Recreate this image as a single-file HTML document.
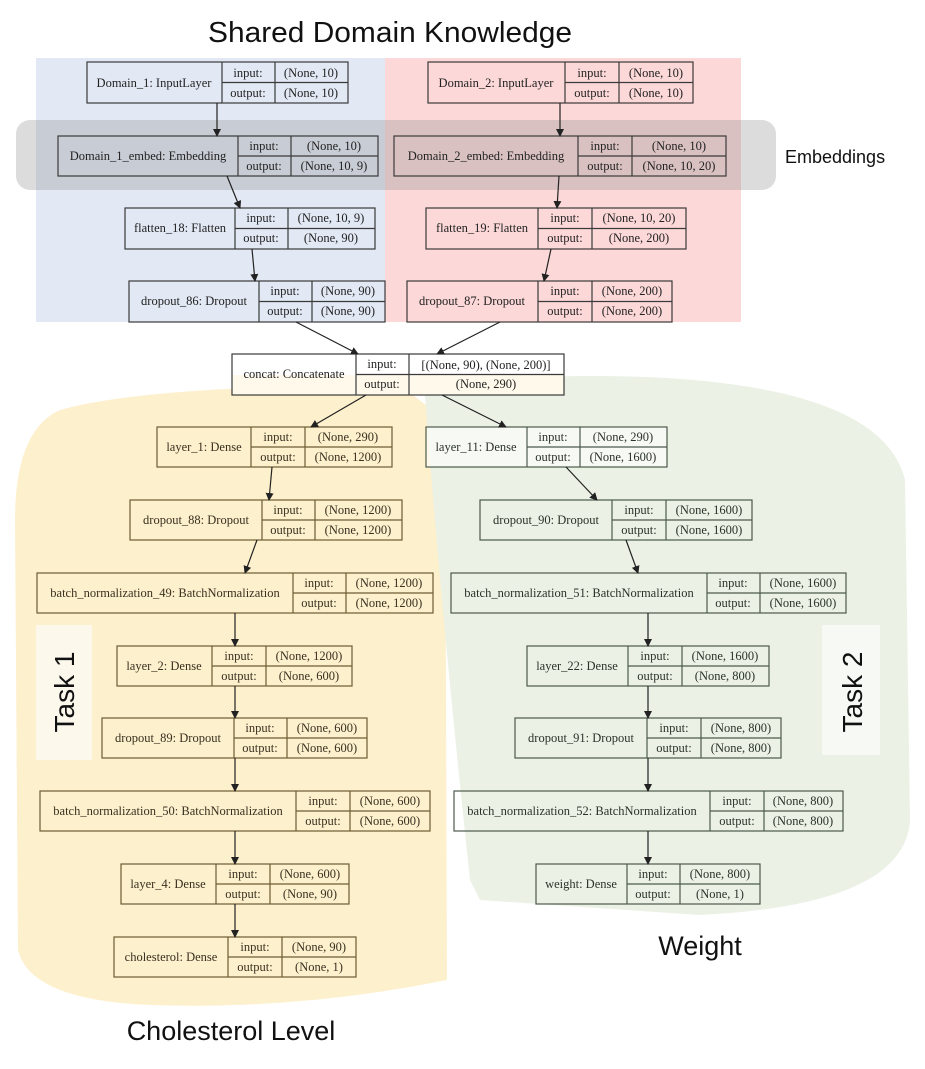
<!DOCTYPE html>
<html><head><meta charset="utf-8"><style>
html,body{margin:0;padding:0;background:#fff;}
svg{display:block;}
.n{font-family:"Liberation Serif",serif;font-size:12.5px;fill:#222;}
.t{font-family:"Liberation Sans","DejaVu Sans",sans-serif;fill:#111;}
rect.b{fill:none;stroke:#3a3a3a;stroke-width:1.2;}
line.d{stroke:#3a3a3a;stroke-width:1.2;}
line.a{stroke:#222;stroke-width:1.2;marker-end:url(#ah);}
g.y rect.b, g.y line.d{stroke:#6e5c34;}
g.y .n{fill:#3a3020;}
g.g rect.b, g.g line.d{stroke:#4c5a4c;}
g.g .n{fill:#2a332a;}
</style></head><body>
<svg width="925" height="1069" viewBox="0 0 925 1069" xmlns="http://www.w3.org/2000/svg">
<defs><marker id="ah" markerWidth="8" markerHeight="8" refX="7" refY="4" orient="auto" markerUnits="userSpaceOnUse"><path d="M0,0 L8,4 L0,8 Z" fill="#222"/></marker></defs>
<rect x="36" y="58" width="349" height="264" fill="#e2e8f4"/>
<rect x="385" y="58" width="356" height="264" fill="#fdd8d8"/>
<rect x="16" y="120" width="760" height="70" rx="14" fill="#8a8a8a" fill-opacity="0.3"/>
<path d="M60,410 Q150,385 400,385 L445,420 L447,980 Q300,1010 150,1005 Q30,1000 18,950 L15,520 Q15,430 60,410 Z" fill="#fdf0cd"/>
<path d="M425,395 Q450,376 600,376 Q880,378 905,480 L910,820 Q905,905 700,915 L480,900 L470,880 Q440,600 425,395 Z" fill="#ebf1e4"/>
<rect x="36" y="625" width="56" height="135" fill="#fdf8ec"/>
<rect x="822" y="625" width="58" height="130" fill="#f7f9f4"/>
<text class="t" x="390" y="42" font-size="29" text-anchor="middle" textLength="364" lengthAdjust="spacingAndGlyphs">Shared Domain Knowledge</text>
<text class="t" x="785" y="163" font-size="18">Embeddings</text>
<text class="t" x="700" y="955" font-size="27" text-anchor="middle">Weight</text>
<text class="t" x="231" y="1040" font-size="27" text-anchor="middle">Cholesterol Level</text>
<text class="t" font-size="28" transform="translate(74,692) rotate(-90)" text-anchor="middle">Task 1</text>
<text class="t" font-size="28" transform="translate(862,692) rotate(-90)" text-anchor="middle">Task 2</text>

<g>
<rect class="b" x="87" y="62" width="261" height="41"/><line class="d" x1="222" y1="62" x2="222" y2="103"/><line class="d" x1="275" y1="62" x2="275" y2="103"/><line class="d" x1="222" y1="82.5" x2="348" y2="82.5"/>
<text class="n" x="154" y="87" text-anchor="middle">Domain_1: InputLayer</text><text class="n" x="248" y="77" text-anchor="middle">input:</text><text class="n" x="248" y="97" text-anchor="middle">output:</text><text class="n" x="311" y="77" text-anchor="middle">(None, 10)</text><text class="n" x="311" y="97" text-anchor="middle">(None, 10)</text>

<rect class="b" x="58" y="136" width="320" height="40"/><line class="d" x1="238" y1="136" x2="238" y2="176"/><line class="d" x1="291" y1="136" x2="291" y2="176"/><line class="d" x1="238" y1="156" x2="378" y2="156"/>
<text class="n" x="148" y="160" text-anchor="middle">Domain_1_embed: Embedding</text><text class="n" x="264" y="150" text-anchor="middle">input:</text><text class="n" x="264" y="170" text-anchor="middle">output:</text><text class="n" x="334" y="150" text-anchor="middle">(None, 10)</text><text class="n" x="334" y="170" text-anchor="middle">(None, 10, 9)</text>

<rect class="b" x="125" y="208" width="250" height="41"/><line class="d" x1="235" y1="208" x2="235" y2="249"/><line class="d" x1="288" y1="208" x2="288" y2="249"/><line class="d" x1="235" y1="228.5" x2="375" y2="228.5"/>
<text class="n" x="180" y="232" text-anchor="middle">flatten_18: Flatten</text><text class="n" x="261" y="222" text-anchor="middle">input:</text><text class="n" x="261" y="242" text-anchor="middle">output:</text><text class="n" x="331" y="222" text-anchor="middle">(None, 10, 9)</text><text class="n" x="331" y="242" text-anchor="middle">(None, 90)</text>

<rect class="b" x="129" y="281" width="256" height="41"/><line class="d" x1="259" y1="281" x2="259" y2="322"/><line class="d" x1="312" y1="281" x2="312" y2="322"/><line class="d" x1="259" y1="301.5" x2="385" y2="301.5"/>
<text class="n" x="194" y="305" text-anchor="middle">dropout_86: Dropout</text><text class="n" x="285" y="295" text-anchor="middle">input:</text><text class="n" x="285" y="315" text-anchor="middle">output:</text><text class="n" x="348" y="295" text-anchor="middle">(None, 90)</text><text class="n" x="348" y="315" text-anchor="middle">(None, 90)</text>

<rect class="b" x="428" y="62" width="265" height="41"/><line class="d" x1="565" y1="62" x2="565" y2="103"/><line class="d" x1="619" y1="62" x2="619" y2="103"/><line class="d" x1="565" y1="82.5" x2="693" y2="82.5"/>
<text class="n" x="496" y="87" text-anchor="middle">Domain_2: InputLayer</text><text class="n" x="592" y="77" text-anchor="middle">input:</text><text class="n" x="592" y="97" text-anchor="middle">output:</text><text class="n" x="656" y="77" text-anchor="middle">(None, 10)</text><text class="n" x="656" y="97" text-anchor="middle">(None, 10)</text>

<rect class="b" x="394" y="136" width="332" height="40"/><line class="d" x1="578" y1="136" x2="578" y2="176"/><line class="d" x1="632" y1="136" x2="632" y2="176"/><line class="d" x1="578" y1="156" x2="726" y2="156"/>
<text class="n" x="486" y="160" text-anchor="middle">Domain_2_embed: Embedding</text><text class="n" x="605" y="150" text-anchor="middle">input:</text><text class="n" x="605" y="170" text-anchor="middle">output:</text><text class="n" x="679" y="150" text-anchor="middle">(None, 10)</text><text class="n" x="679" y="170" text-anchor="middle">(None, 10, 20)</text>

<rect class="b" x="426" y="208" width="260" height="41"/><line class="d" x1="538" y1="208" x2="538" y2="249"/><line class="d" x1="592" y1="208" x2="592" y2="249"/><line class="d" x1="538" y1="228.5" x2="686" y2="228.5"/>
<text class="n" x="482" y="232" text-anchor="middle">flatten_19: Flatten</text><text class="n" x="565" y="222" text-anchor="middle">input:</text><text class="n" x="565" y="242" text-anchor="middle">output:</text><text class="n" x="639" y="222" text-anchor="middle">(None, 10, 20)</text><text class="n" x="639" y="242" text-anchor="middle">(None, 200)</text>

<rect class="b" x="407" y="281" width="265" height="41"/><line class="d" x1="538" y1="281" x2="538" y2="322"/><line class="d" x1="592" y1="281" x2="592" y2="322"/><line class="d" x1="538" y1="301.5" x2="672" y2="301.5"/>
<text class="n" x="472" y="305" text-anchor="middle">dropout_87: Dropout</text><text class="n" x="565" y="295" text-anchor="middle">input:</text><text class="n" x="565" y="315" text-anchor="middle">output:</text><text class="n" x="632" y="295" text-anchor="middle">(None, 200)</text><text class="n" x="632" y="315" text-anchor="middle">(None, 200)</text>

<rect x="232" y="354" width="332" height="41" fill="#fff"/><rect x="232" y="375" width="332" height="20" fill="#fdf0cd" fill-opacity="0.4"/>
<rect class="b" x="232" y="354" width="332" height="41"/><line class="d" x1="356" y1="354" x2="356" y2="395"/><line class="d" x1="409" y1="354" x2="409" y2="395"/><line class="d" x1="356" y1="374.5" x2="564" y2="374.5"/>
<text class="n" x="294" y="378" text-anchor="middle">concat: Concatenate</text><text class="n" x="382" y="368" text-anchor="middle">input:</text><text class="n" x="382" y="388" text-anchor="middle">output:</text><text class="n" x="486" y="369" text-anchor="middle" font-size="14">[(None, 90), (None, 200)]</text><text class="n" x="486" y="388" text-anchor="middle">(None, 290)</text>
</g>

<g class="y">
<rect class="b" x="157" y="427" width="235" height="40"/><line class="d" x1="251" y1="427" x2="251" y2="467"/><line class="d" x1="305" y1="427" x2="305" y2="467"/><line class="d" x1="251" y1="447" x2="392" y2="447"/>
<text class="n" x="204" y="451" text-anchor="middle">layer_1: Dense</text><text class="n" x="278" y="441" text-anchor="middle">input:</text><text class="n" x="278" y="461" text-anchor="middle">output:</text><text class="n" x="348" y="441" text-anchor="middle">(None, 290)</text><text class="n" x="348" y="461" text-anchor="middle">(None, 1200)</text>

<rect class="b" x="130" y="500" width="272" height="40"/><line class="d" x1="262" y1="500" x2="262" y2="540"/><line class="d" x1="315" y1="500" x2="315" y2="540"/><line class="d" x1="262" y1="520" x2="402" y2="520"/>
<text class="n" x="196" y="524" text-anchor="middle">dropout_88: Dropout</text><text class="n" x="288" y="514" text-anchor="middle">input:</text><text class="n" x="288" y="534" text-anchor="middle">output:</text><text class="n" x="358" y="514" text-anchor="middle">(None, 1200)</text><text class="n" x="358" y="534" text-anchor="middle">(None, 1200)</text>

<rect class="b" x="37" y="573" width="396" height="40"/><line class="d" x1="293" y1="573" x2="293" y2="613"/><line class="d" x1="346" y1="573" x2="346" y2="613"/><line class="d" x1="293" y1="593" x2="433" y2="593"/>
<text class="n" x="165" y="597" text-anchor="middle">batch_normalization_49: BatchNormalization</text><text class="n" x="319" y="587" text-anchor="middle">input:</text><text class="n" x="319" y="607" text-anchor="middle">output:</text><text class="n" x="389" y="587" text-anchor="middle">(None, 1200)</text><text class="n" x="389" y="607" text-anchor="middle">(None, 1200)</text>

<rect class="b" x="117" y="646" width="235" height="40"/><line class="d" x1="212" y1="646" x2="212" y2="686"/><line class="d" x1="266" y1="646" x2="266" y2="686"/><line class="d" x1="212" y1="666" x2="352" y2="666"/>
<text class="n" x="164" y="670" text-anchor="middle">layer_2: Dense</text><text class="n" x="239" y="660" text-anchor="middle">input:</text><text class="n" x="239" y="680" text-anchor="middle">output:</text><text class="n" x="309" y="660" text-anchor="middle">(None, 1200)</text><text class="n" x="309" y="680" text-anchor="middle">(None, 600)</text>

<rect class="b" x="102" y="718" width="265" height="40"/><line class="d" x1="234" y1="718" x2="234" y2="758"/><line class="d" x1="287" y1="718" x2="287" y2="758"/><line class="d" x1="234" y1="738" x2="367" y2="738"/>
<text class="n" x="168" y="742" text-anchor="middle">dropout_89: Dropout</text><text class="n" x="260" y="732" text-anchor="middle">input:</text><text class="n" x="260" y="752" text-anchor="middle">output:</text><text class="n" x="327" y="732" text-anchor="middle">(None, 600)</text><text class="n" x="327" y="752" text-anchor="middle">(None, 600)</text>

<rect class="b" x="40" y="791" width="390" height="40"/><line class="d" x1="296" y1="791" x2="296" y2="831"/><line class="d" x1="350" y1="791" x2="350" y2="831"/><line class="d" x1="296" y1="811" x2="430" y2="811"/>
<text class="n" x="168" y="815" text-anchor="middle">batch_normalization_50: BatchNormalization</text><text class="n" x="323" y="805" text-anchor="middle">input:</text><text class="n" x="323" y="825" text-anchor="middle">output:</text><text class="n" x="390" y="805" text-anchor="middle">(None, 600)</text><text class="n" x="390" y="825" text-anchor="middle">(None, 600)</text>

<rect class="b" x="121" y="864" width="228" height="40"/><line class="d" x1="216" y1="864" x2="216" y2="904"/><line class="d" x1="270" y1="864" x2="270" y2="904"/><line class="d" x1="216" y1="884" x2="349" y2="884"/>
<text class="n" x="168" y="888" text-anchor="middle">layer_4: Dense</text><text class="n" x="243" y="878" text-anchor="middle">input:</text><text class="n" x="243" y="898" text-anchor="middle">output:</text><text class="n" x="310" y="878" text-anchor="middle">(None, 600)</text><text class="n" x="310" y="898" text-anchor="middle">(None, 90)</text>

<rect class="b" x="114" y="937" width="242" height="40"/><line class="d" x1="228" y1="937" x2="228" y2="977"/><line class="d" x1="282" y1="937" x2="282" y2="977"/><line class="d" x1="228" y1="957" x2="356" y2="957"/>
<text class="n" x="171" y="961" text-anchor="middle">cholesterol: Dense</text><text class="n" x="255" y="951" text-anchor="middle">input:</text><text class="n" x="255" y="971" text-anchor="middle">output:</text><text class="n" x="319" y="951" text-anchor="middle">(None, 90)</text><text class="n" x="319" y="971" text-anchor="middle">(None, 1)</text>
</g>

<g class="g">
<rect x="426" y="427" width="241" height="40" fill="#fff" fill-opacity="0.6"/>
<rect class="b" x="426" y="427" width="241" height="40"/><line class="d" x1="527" y1="427" x2="527" y2="467"/><line class="d" x1="580" y1="427" x2="580" y2="467"/><line class="d" x1="527" y1="447" x2="667" y2="447"/>
<text class="n" x="476" y="451" text-anchor="middle">layer_11: Dense</text><text class="n" x="553" y="441" text-anchor="middle">input:</text><text class="n" x="553" y="461" text-anchor="middle">output:</text><text class="n" x="623" y="441" text-anchor="middle">(None, 290)</text><text class="n" x="623" y="461" text-anchor="middle">(None, 1600)</text>

<rect class="b" x="480" y="500" width="272" height="40"/><line class="d" x1="612" y1="500" x2="612" y2="540"/><line class="d" x1="666" y1="500" x2="666" y2="540"/><line class="d" x1="612" y1="520" x2="752" y2="520"/>
<text class="n" x="546" y="524" text-anchor="middle">dropout_90: Dropout</text><text class="n" x="639" y="514" text-anchor="middle">input:</text><text class="n" x="639" y="534" text-anchor="middle">output:</text><text class="n" x="709" y="514" text-anchor="middle">(None, 1600)</text><text class="n" x="709" y="534" text-anchor="middle">(None, 1600)</text>

<rect class="b" x="451" y="573" width="395" height="40"/><line class="d" x1="707" y1="573" x2="707" y2="613"/><line class="d" x1="760" y1="573" x2="760" y2="613"/><line class="d" x1="707" y1="593" x2="846" y2="593"/>
<text class="n" x="579" y="597" text-anchor="middle">batch_normalization_51: BatchNormalization</text><text class="n" x="733" y="587" text-anchor="middle">input:</text><text class="n" x="733" y="607" text-anchor="middle">output:</text><text class="n" x="803" y="587" text-anchor="middle">(None, 1600)</text><text class="n" x="803" y="607" text-anchor="middle">(None, 1600)</text>

<rect class="b" x="527" y="646" width="242" height="40"/><line class="d" x1="628" y1="646" x2="628" y2="686"/><line class="d" x1="682" y1="646" x2="682" y2="686"/><line class="d" x1="628" y1="666" x2="769" y2="666"/>
<text class="n" x="577" y="670" text-anchor="middle">layer_22: Dense</text><text class="n" x="655" y="660" text-anchor="middle">input:</text><text class="n" x="655" y="680" text-anchor="middle">output:</text><text class="n" x="725" y="660" text-anchor="middle">(None, 1600)</text><text class="n" x="725" y="680" text-anchor="middle">(None, 800)</text>

<rect class="b" x="515" y="718" width="266" height="40"/><line class="d" x1="647" y1="718" x2="647" y2="758"/><line class="d" x1="701" y1="718" x2="701" y2="758"/><line class="d" x1="647" y1="738" x2="781" y2="738"/>
<text class="n" x="581" y="742" text-anchor="middle">dropout_91: Dropout</text><text class="n" x="674" y="732" text-anchor="middle">input:</text><text class="n" x="674" y="752" text-anchor="middle">output:</text><text class="n" x="741" y="732" text-anchor="middle">(None, 800)</text><text class="n" x="741" y="752" text-anchor="middle">(None, 800)</text>

<rect class="b" x="454" y="791" width="389" height="40"/><line class="d" x1="710" y1="791" x2="710" y2="831"/><line class="d" x1="764" y1="791" x2="764" y2="831"/><line class="d" x1="710" y1="811" x2="843" y2="811"/>
<text class="n" x="582" y="815" text-anchor="middle">batch_normalization_52: BatchNormalization</text><text class="n" x="737" y="805" text-anchor="middle">input:</text><text class="n" x="737" y="825" text-anchor="middle">output:</text><text class="n" x="803" y="805" text-anchor="middle">(None, 800)</text><text class="n" x="803" y="825" text-anchor="middle">(None, 800)</text>

<rect class="b" x="536" y="864" width="224" height="40"/><line class="d" x1="627" y1="864" x2="627" y2="904"/><line class="d" x1="680" y1="864" x2="680" y2="904"/><line class="d" x1="627" y1="884" x2="760" y2="884"/>
<text class="n" x="581" y="888" text-anchor="middle">weight: Dense</text><text class="n" x="653" y="878" text-anchor="middle">input:</text><text class="n" x="653" y="898" text-anchor="middle">output:</text><text class="n" x="720" y="878" text-anchor="middle">(None, 800)</text><text class="n" x="720" y="898" text-anchor="middle">(None, 1)</text>
</g>

<line class="a" x1="217" y1="103" x2="217" y2="136"/>
<line class="a" x1="227" y1="176" x2="240" y2="208"/>
<line class="a" x1="252" y1="249" x2="255" y2="281"/>
<line class="a" x1="296" y1="322" x2="358" y2="354"/>
<line class="a" x1="560" y1="103" x2="560" y2="136"/>
<line class="a" x1="559" y1="176" x2="557" y2="208"/>
<line class="a" x1="551" y1="249" x2="544" y2="281"/>
<line class="a" x1="500" y1="322" x2="437" y2="354"/>
<line class="a" x1="366" y1="395" x2="311" y2="427"/>
<line class="a" x1="442" y1="395" x2="506" y2="427"/>
<line class="a" x1="272" y1="467" x2="269" y2="500"/>
<line class="a" x1="257" y1="540" x2="245" y2="573"/>
<line class="a" x1="235" y1="613" x2="235" y2="646"/>
<line class="a" x1="235" y1="686" x2="235" y2="718"/>
<line class="a" x1="235" y1="758" x2="235" y2="791"/>
<line class="a" x1="235" y1="831" x2="235" y2="864"/>
<line class="a" x1="235" y1="904" x2="235" y2="937"/>
<line class="a" x1="566" y1="467" x2="597" y2="500"/>
<line class="a" x1="626" y1="540" x2="638" y2="573"/>
<line class="a" x1="648" y1="613" x2="648" y2="646"/>
<line class="a" x1="648" y1="686" x2="648" y2="718"/>
<line class="a" x1="648" y1="758" x2="648" y2="791"/>
<line class="a" x1="648" y1="831" x2="648" y2="864"/>
</svg>
</body></html>
